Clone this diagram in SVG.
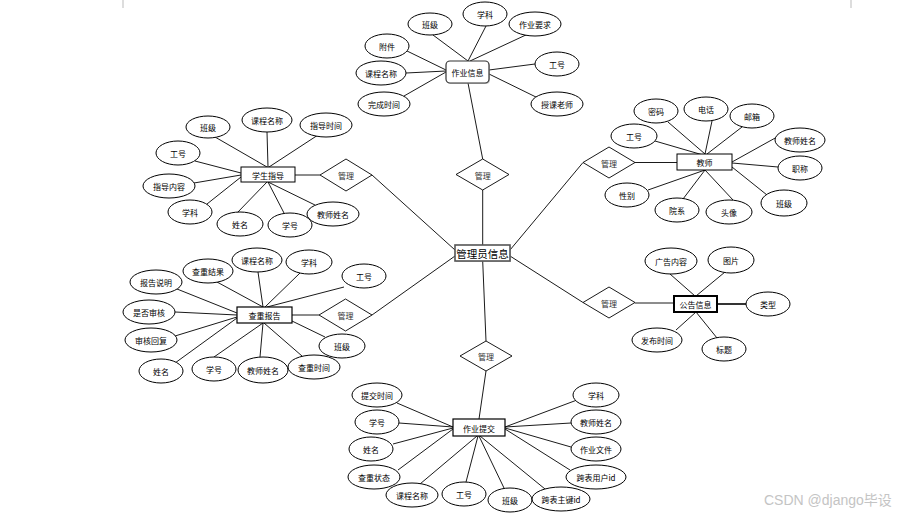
<svg xmlns="http://www.w3.org/2000/svg" width="922" height="516" viewBox="0 0 922 516">
<style>
.e{fill:#fff;stroke:#000;stroke-width:1}
.r{fill:#fff;stroke:#000;stroke-width:1}
.d{fill:#fff;stroke:#000;stroke-width:0.9}
.t{font-family:"Noto Sans CJK SC","Liberation Sans",sans-serif;font-size:8px;text-anchor:middle;dominant-baseline:central;fill:#000}
.dt{font-family:"Noto Sans CJK SC","Liberation Sans",sans-serif;font-size:8px;text-anchor:middle;dominant-baseline:central;fill:#333}
.big{font-family:"Noto Sans CJK SC","Liberation Sans",sans-serif;font-size:10.5px;text-anchor:middle;dominant-baseline:central;fill:#000}
#connectors line{stroke:#000;stroke-width:0.9}
.wm{font-family:"Liberation Sans","Noto Sans CJK SC",sans-serif;font-size:14px;fill:#c4c4c4}
</style>
<rect width="922" height="516" fill="#fff"/>
<line x1="123" y1="0" x2="123" y2="8" stroke="#bbb" stroke-width="1"/>
<line x1="851" y1="0" x2="851" y2="8" stroke="#bbb" stroke-width="1"/>
<g id="connectors">
<!-- 作业信息 -->
<line x1="433" y1="35" x2="468" y2="61"/>
<line x1="486" y1="26" x2="468" y2="61"/>
<line x1="528" y1="34" x2="470" y2="61"/>
<line x1="405" y1="50" x2="446" y2="70"/>
<line x1="406" y1="73" x2="446" y2="71"/>
<line x1="404" y1="96" x2="446" y2="72"/>
<line x1="535" y1="64" x2="489" y2="70"/>
<line x1="540" y1="99" x2="489" y2="74"/>
<line x1="468" y1="83" x2="482.7" y2="159"/>
<line x1="482.7" y1="190" x2="482.7" y2="245"/>
<!-- 管理员信息 -->
<line x1="455" y1="250" x2="372" y2="175"/>
<line x1="510" y1="250" x2="583" y2="162.5"/>
<line x1="455" y1="256" x2="372" y2="315"/>
<line x1="510" y1="256" x2="583" y2="302.5"/>
<line x1="482.7" y1="261" x2="486" y2="341"/>
<line x1="486" y1="371" x2="479" y2="419"/>
<!-- 学生指导 -->
<line x1="295" y1="175" x2="320" y2="175"/>
<line x1="215" y1="137" x2="267" y2="167"/>
<line x1="267" y1="132" x2="268" y2="167"/>
<line x1="318" y1="135" x2="269" y2="167"/>
<line x1="195" y1="161" x2="241" y2="173"/>
<line x1="194" y1="183" x2="241" y2="175"/>
<line x1="207" y1="204" x2="241" y2="177"/>
<line x1="237" y1="213" x2="267" y2="182"/>
<line x1="284" y1="213" x2="268" y2="182"/>
<line x1="315" y1="205" x2="268" y2="182"/>
<!-- 教师 -->
<line x1="635" y1="162.5" x2="677" y2="162.5"/>
<line x1="668" y1="122" x2="705" y2="154"/>
<line x1="712" y1="121" x2="705" y2="154"/>
<line x1="742" y1="127" x2="707" y2="154"/>
<line x1="655" y1="141" x2="703" y2="155"/>
<line x1="777" y1="137" x2="732" y2="162"/>
<line x1="778" y1="167" x2="732" y2="163"/>
<line x1="767" y1="195" x2="732" y2="167"/>
<line x1="648" y1="190" x2="705" y2="170"/>
<line x1="683" y1="199" x2="705" y2="170"/>
<line x1="733" y1="200" x2="705" y2="170"/>
<!-- 查重报告 -->
<line x1="292" y1="315" x2="319" y2="315"/>
<line x1="177" y1="289" x2="237" y2="313"/>
<line x1="217" y1="282" x2="263" y2="307"/>
<line x1="258" y1="272" x2="263" y2="307"/>
<line x1="300" y1="273" x2="265" y2="307"/>
<line x1="344" y1="287" x2="267" y2="307"/>
<line x1="175" y1="312" x2="237" y2="315"/>
<line x1="175" y1="336" x2="237" y2="317"/>
<line x1="175" y1="363" x2="237" y2="318"/>
<line x1="214" y1="357" x2="263" y2="323"/>
<line x1="260" y1="357" x2="263" y2="323"/>
<line x1="302" y1="356" x2="264" y2="323"/>
<line x1="325" y1="337" x2="292" y2="321"/>
<!-- 公告信息 -->
<line x1="635" y1="303" x2="674" y2="303"/>
<line x1="670" y1="274" x2="695" y2="296"/>
<line x1="725" y1="272" x2="696" y2="296"/>
<line x1="717" y1="304" x2="746" y2="304" style="stroke-width:1.6"/>
<line x1="676" y1="330" x2="696" y2="312"/>
<line x1="717" y1="338" x2="696" y2="312"/>
<!-- 作业提交 -->
<line x1="397" y1="403" x2="453" y2="427"/>
<line x1="399" y1="423" x2="453" y2="427"/>
<line x1="393" y1="444" x2="453" y2="428"/>
<line x1="398" y1="470" x2="453" y2="429"/>
<line x1="420" y1="484" x2="477" y2="436"/>
<line x1="466" y1="482" x2="478" y2="436"/>
<line x1="504" y1="488" x2="479" y2="436"/>
<line x1="545" y1="489" x2="480" y2="436"/>
<line x1="577" y1="400" x2="505" y2="427"/>
<line x1="571" y1="423" x2="505" y2="427"/>
<line x1="571" y1="447" x2="505" y2="428"/>
<line x1="570" y1="470" x2="505" y2="429"/>
</g>

<!-- central entity -->
<g id="admin">
<rect x="456" y="246" width="55" height="16" fill="#999" stroke="none" opacity="0.5"/>
<rect class="r" x="455" y="245" width="55" height="16" style="stroke:#555;stroke-width:1.6"/>
<text class="big" x="482.5" y="253.5">管理员信息</text>
</g>

<!-- 作业信息 -->
<g id="zyxx">
<rect x="447" y="62" width="43" height="22" rx="4" fill="#aaa" opacity="0.6"/>
<rect class="r" x="446" y="61" width="43" height="22" rx="4" style="stroke:#333;stroke-width:1.2"/>
<text class="t" x="467.5" y="72.5">作业信息</text>
</g>
<g id="zyxx-bj"><ellipse class="e" cx="430" cy="24" rx="22" ry="11"/><text class="t" x="430" y="24.5">班级</text></g>
<g id="zyxx-xk"><ellipse class="e" cx="485" cy="14" rx="22" ry="12"/><text class="t" x="485" y="14.5">学科</text></g>
<g id="zyxx-zyyq"><ellipse class="e" cx="535" cy="24" rx="26" ry="12"/><text class="t" x="535" y="24.5">作业要求</text></g>
<g id="zyxx-fj"><ellipse class="e" cx="387" cy="46" rx="22" ry="12"/><text class="t" x="387" y="46.5">附件</text></g>
<g id="zyxx-kcmc"><ellipse class="e" cx="381" cy="73" rx="25" ry="12"/><text class="t" x="381" y="73.5">课程名称</text></g>
<g id="zyxx-wcsj"><ellipse class="e" cx="384" cy="104" rx="26" ry="12"/><text class="t" x="384" y="104.5">完成时间</text></g>
<g id="zyxx-gh"><ellipse class="e" cx="557" cy="64" rx="22" ry="12"/><text class="t" x="557" y="64.5">工号</text></g>
<g id="zyxx-sklw"><ellipse class="e" cx="557" cy="104" rx="26" ry="12"/><text class="t" x="557" y="104.5">授课老师</text></g>
<g id="gl-top"><polygon class="d" points="456,174.5 482.7,159 509,174.5 482.7,190"/><text class="dt" x="482.7" y="175">管理</text></g>

<!-- 学生指导 -->
<g id="xszd"><rect class="r" x="241" y="167" width="54" height="15"/><text class="t" x="268" y="175">学生指导</text></g>
<g id="gl-xszd"><polygon class="d" points="320,175 346,159 372,175 346,191"/><text class="dt" x="346" y="175.5">管理</text></g>
<g id="xszd-bj"><ellipse class="e" cx="208" cy="127" rx="22" ry="11"/><text class="t" x="208" y="127.5">班级</text></g>
<g id="xszd-kcmc"><ellipse class="e" cx="267" cy="120" rx="25" ry="12"/><text class="t" x="267" y="120.5">课程名称</text></g>
<g id="xszd-zdsj"><ellipse class="e" cx="326" cy="125" rx="26" ry="12"/><text class="t" x="326" y="125.5">指导时间</text></g>
<g id="xszd-gh"><ellipse class="e" cx="178" cy="153" rx="22" ry="12"/><text class="t" x="178" y="153.5">工号</text></g>
<g id="xszd-zdnr"><ellipse class="e" cx="169" cy="186" rx="26" ry="12"/><text class="t" x="169" y="186.5">指导内容</text></g>
<g id="xszd-xk"><ellipse class="e" cx="190" cy="212" rx="22" ry="12"/><text class="t" x="190" y="212.5">学科</text></g>
<g id="xszd-xm"><ellipse class="e" cx="240" cy="224" rx="23" ry="12"/><text class="t" x="240" y="224.5">姓名</text></g>
<g id="xszd-xh"><ellipse class="e" cx="290" cy="225" rx="22" ry="12"/><text class="t" x="290" y="225.5">学号</text></g>
<g id="xszd-jsxm"><ellipse class="e" cx="333" cy="214" rx="26" ry="12"/><text class="t" x="333" y="214.5">教师姓名</text></g>

<!-- 教师 -->
<g id="js"><rect class="r" x="677" y="154" width="55" height="16"/><text class="t" x="704.5" y="162.5">教师</text></g>
<g id="gl-js"><polygon class="d" points="583,162.5 609,147 635,162.5 609,178"/><text class="dt" x="609" y="163">管理</text></g>
<g id="js-mm"><ellipse class="e" cx="656" cy="111" rx="22" ry="12"/><text class="t" x="656" y="111.5">密码</text></g>
<g id="js-dh"><ellipse class="e" cx="706" cy="109" rx="22" ry="12"/><text class="t" x="706" y="109.5">电话</text></g>
<g id="js-yx"><ellipse class="e" cx="752" cy="116" rx="22" ry="12"/><text class="t" x="752" y="116.5">邮箱</text></g>
<g id="js-gh"><ellipse class="e" cx="634" cy="136" rx="23" ry="12"/><text class="t" x="634" y="136.5">工号</text></g>
<g id="js-jsxm"><ellipse class="e" cx="800" cy="140" rx="25" ry="12"/><text class="t" x="800" y="140.5">教师姓名</text></g>
<g id="js-zc"><ellipse class="e" cx="800" cy="168" rx="22" ry="12"/><text class="t" x="800" y="168.5">职称</text></g>
<g id="js-xb"><ellipse class="e" cx="627" cy="195" rx="22" ry="12"/><text class="t" x="627" y="195.5">性别</text></g>
<g id="js-yx2"><ellipse class="e" cx="677" cy="210" rx="22" ry="12"/><text class="t" x="677" y="210.5">院系</text></g>
<g id="js-tx"><ellipse class="e" cx="729" cy="212" rx="23" ry="12"/><text class="t" x="729" y="212.5">头像</text></g>
<g id="js-bj"><ellipse class="e" cx="784" cy="203" rx="23" ry="13"/><text class="t" x="784" y="203.5">班级</text></g>

<!-- 查重报告 -->
<g id="ccbg"><rect class="r" x="237" y="307" width="55" height="16" style="stroke-width:1.2"/><text class="t" x="264.5" y="315.5">查重报告</text></g>
<g id="gl-ccbg"><polygon class="d" points="319,315 345.5,299 372,315 345.5,331"/><text class="dt" x="345.5" y="315.5">管理</text></g>
<g id="ccbg-bgsm"><ellipse class="e" cx="156" cy="282" rx="26" ry="12"/><text class="t" x="156" y="282.5">报告说明</text></g>
<g id="ccbg-ccjg"><ellipse class="e" cx="208" cy="271" rx="25" ry="12"/><text class="t" x="208" y="271.5">查重结果</text></g>
<g id="ccbg-kcmc"><ellipse class="e" cx="257" cy="260" rx="25" ry="12"/><text class="t" x="257" y="260.5">课程名称</text></g>
<g id="ccbg-xk"><ellipse class="e" cx="309" cy="262" rx="23" ry="12"/><text class="t" x="309" y="262.5">学科</text></g>
<g id="ccbg-gh"><ellipse class="e" cx="364" cy="276" rx="22" ry="12"/><text class="t" x="364" y="276.5">工号</text></g>
<g id="ccbg-sfsh"><ellipse class="e" cx="149" cy="312" rx="26" ry="12"/><text class="t" x="149" y="312.5">是否审核</text></g>
<g id="ccbg-shhf"><ellipse class="e" cx="151" cy="340" rx="26" ry="12"/><text class="t" x="151" y="340.5">审核回复</text></g>
<g id="ccbg-xm"><ellipse class="e" cx="161" cy="371" rx="22" ry="12"/><text class="t" x="161" y="371.5">姓名</text></g>
<g id="ccbg-xh"><ellipse class="e" cx="214" cy="369" rx="22" ry="12"/><text class="t" x="214" y="369.5">学号</text></g>
<g id="ccbg-jsxm"><ellipse class="e" cx="263" cy="370" rx="25" ry="13"/><text class="t" x="263" y="370.5">教师姓名</text></g>
<g id="ccbg-ccsj"><ellipse class="e" cx="314" cy="367" rx="26" ry="12"/><text class="t" x="314" y="367.5">查重时间</text></g>
<g id="ccbg-bj"><ellipse class="e" cx="342" cy="346" rx="23" ry="12"/><text class="t" x="342" y="346.5">班级</text></g>

<!-- 公告信息 -->
<g id="ggxx"><rect class="r" x="674" y="296" width="43" height="16" style="stroke-width:2"/><text class="t" x="695.5" y="304.5">公告信息</text></g>
<g id="gl-ggxx"><polygon class="d" points="583,302.5 609,287 635,302.5 609,318"/><text class="dt" x="609" y="303">管理</text></g>
<g id="ggxx-ggnr"><ellipse class="e" cx="671" cy="261" rx="26" ry="13"/><text class="t" x="671" y="261.5">广告内容</text></g>
<g id="ggxx-tp"><ellipse class="e" cx="731" cy="260" rx="23" ry="13"/><text class="t" x="731" y="260.5">图片</text></g>
<g id="ggxx-lx"><ellipse class="e" cx="768" cy="304" rx="22" ry="12"/><text class="t" x="768" y="304.5">类型</text></g>
<g id="ggxx-fbsj"><ellipse class="e" cx="657" cy="340" rx="25" ry="12"/><text class="t" x="657" y="340.5">发布时间</text></g>
<g id="ggxx-bt"><ellipse class="e" cx="724" cy="349" rx="22" ry="12"/><text class="t" x="724" y="349.5">标题</text></g>

<!-- 作业提交 -->
<g id="gl-bottom"><polygon class="d" points="460,356 486,341 512,356 486,371"/><text class="dt" x="486" y="356.5">管理</text></g>
<g id="zytj"><rect class="r" x="453" y="419" width="52" height="17" style="stroke-width:1.2"/><text class="t" x="479" y="428">作业提交</text></g>
<g id="zytj-tjsj"><ellipse class="e" cx="377" cy="395" rx="25" ry="12"/><text class="t" x="377" y="395.5">提交时间</text></g>
<g id="zytj-xh"><ellipse class="e" cx="377" cy="422" rx="22" ry="12"/><text class="t" x="377" y="422.5">学号</text></g>
<g id="zytj-xm"><ellipse class="e" cx="371" cy="449" rx="22" ry="12"/><text class="t" x="371" y="449.5">姓名</text></g>
<g id="zytj-cczt"><ellipse class="e" cx="374" cy="477" rx="26" ry="12"/><text class="t" x="374" y="477.5">查重状态</text></g>
<g id="zytj-kcmc"><ellipse class="e" cx="412" cy="495" rx="26" ry="12"/><text class="t" x="412" y="495.5">课程名称</text></g>
<g id="zytj-gh"><ellipse class="e" cx="464" cy="494" rx="22" ry="12"/><text class="t" x="464" y="494.5">工号</text></g>
<g id="zytj-bj"><ellipse class="e" cx="510" cy="500" rx="22" ry="12"/><text class="t" x="510" y="500.5">班级</text></g>
<g id="zytj-kbzjid"><ellipse class="e" cx="561" cy="499" rx="29" ry="12"/><text class="t" x="561" y="499.5">跨表主键id</text></g>
<g id="zytj-xk"><ellipse class="e" cx="596" cy="395" rx="23" ry="12"/><text class="t" x="596" y="395.5">学科</text></g>
<g id="zytj-jsxm"><ellipse class="e" cx="596" cy="422" rx="25" ry="12"/><text class="t" x="596" y="422.5">教师姓名</text></g>
<g id="zytj-zywj"><ellipse class="e" cx="596" cy="449" rx="25" ry="12"/><text class="t" x="596" y="449.5">作业文件</text></g>
<g id="zytj-kbyhid"><ellipse class="e" cx="596" cy="477" rx="30" ry="12"/><text class="t" x="596" y="477.5">跨表用户id</text></g>

<text class="wm" x="764" y="505">CSDN @django毕设</text>
</svg>
